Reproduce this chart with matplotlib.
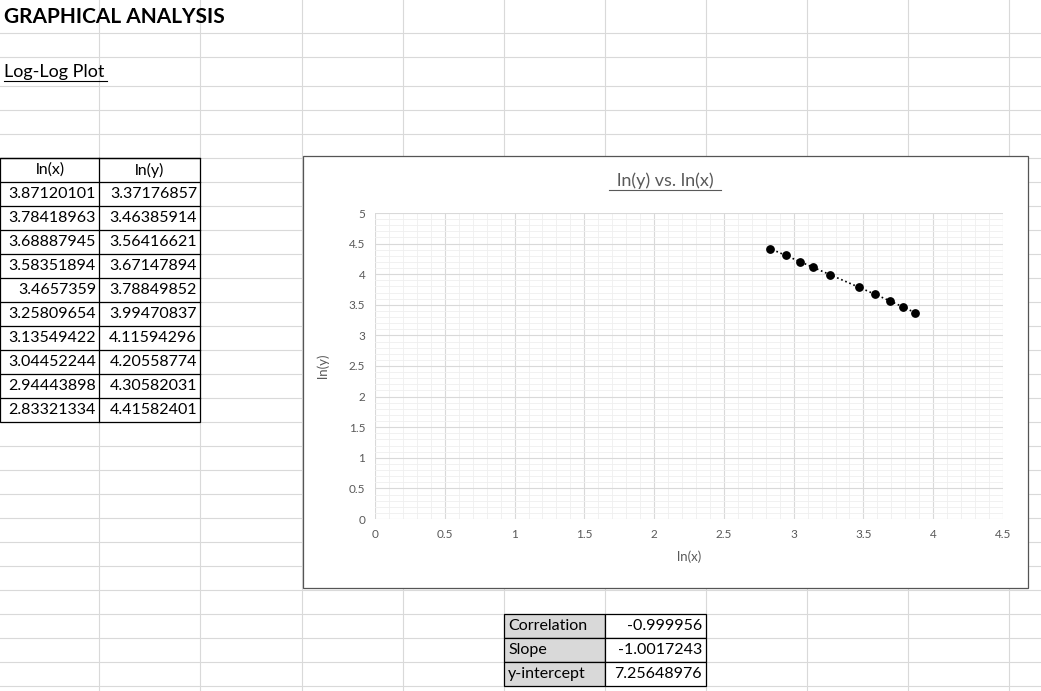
import matplotlib.pyplot as plt
from matplotlib.patches import Rectangle
from matplotlib.ticker import MultipleLocator, FuncFormatter

plt.rcParams['font.family'] = ['Lato', 'DejaVu Sans']

ln_x = [3.87120101, 3.78418963, 3.68887945, 3.58351894, 3.4657359,
        3.25809654, 3.13549422, 3.04452244, 2.94443898, 2.83321334]
ln_y = [3.37176857, 3.46385914, 3.56416621, 3.67147894, 3.78849852,
        3.99470837, 4.11594296, 4.20558774, 4.30582031, 4.41582401]
stat_labels = ['Correlation', 'Slope', 'y-intercept']
stat_values = ['-0.999956', '-1.0017243', '7.25648976']

W, H = 1041, 691
fig = plt.figure(figsize=(W / 100, H / 100), dpi=100)
bg = fig.add_axes([0, 0, 1, 1])
bg.set_xlim(0, W)
bg.set_ylim(H, 0)
bg.axis('off')

# spreadsheet grid
cols = [99, 200, 302, 403, 504, 605, 706, 807, 908, 1009]
rows = [33, 57, 86, 110, 134] + list(range(158, 691, 24))
for c in cols:
    bg.plot([c, c], [0, H], color='#d9d9d9', lw=0.8, zorder=1)
for r in rows:
    bg.plot([0, W], [r, r], color='#d9d9d9', lw=0.8, zorder=1)

bg.text(4, 17, 'GRAPHICAL ANALYSIS', fontsize=15, fontweight='bold', va='center', zorder=3)
bg.text(4, 72, 'Log-Log Plot', fontsize=13, va='center', zorder=3)
bg.plot([4, 107], [81, 81], color='black', lw=0.8, zorder=3)

# data table
bg.add_patch(Rectangle((0, 158), 200, 264, fill=False, ec='black', lw=0.9, zorder=3))
bg.plot([99, 99], [158, 422], color='black', lw=0.9, zorder=3)
for i in range(11):
    bg.plot([0, 200], [158 + 24 * i, 158 + 24 * i], color='black', lw=0.9, zorder=3)
bg.text(50, 170, 'ln(x)', fontsize=11.5, ha='center', va='center', zorder=3)
bg.text(150, 170, 'ln(y)', fontsize=11.5, ha='center', va='center', zorder=3)
for i, (a, b) in enumerate(zip(ln_x, ln_y)):
    yy = 194 + 24 * i
    bg.text(96, yy, f'{a:.9g}', fontsize=11.5, ha='right', va='center', zorder=3)
    bg.text(197, yy, f'{b:.9g}', fontsize=11.5, ha='right', va='center', zorder=3)

# stats table
for i, (lab, val) in enumerate(zip(stat_labels, stat_values)):
    y0 = 614 + 24 * i
    bg.add_patch(Rectangle((504, y0), 101, 24, fc='#d9d9d9', ec='black', lw=0.9, zorder=3))
    bg.add_patch(Rectangle((605, y0), 101, 24, fc='white', ec='black', lw=0.9, zorder=3))
    bg.text(508, y0 + 12, lab, fontsize=11.5, va='center', zorder=4)
    bg.text(702, y0 + 12, val, fontsize=11.5, ha='right', va='center', zorder=4)

# chart frame
bg.add_patch(Rectangle((303, 156), 725, 432, fc='white', ec='#555555', lw=0.9, zorder=5))
bg.text(665, 181, 'ln(y) vs. ln(x)', fontsize=13, color='#595959', ha='center', va='center', zorder=6)
bg.plot([609, 721], [190, 190], color='#595959', lw=0.8, zorder=6)

ax = fig.add_axes([375 / W, (H - 519) / H, (1003 - 375) / W, (519 - 213) / H])
ax.set_xlim(0, 4.5)
ax.set_ylim(0, 5)
ax.xaxis.set_major_locator(MultipleLocator(0.5))
ax.yaxis.set_major_locator(MultipleLocator(0.5))
ax.xaxis.set_minor_locator(MultipleLocator(0.1))
ax.yaxis.set_minor_locator(MultipleLocator(0.1))
fmt = FuncFormatter(lambda v, p: f'{v:g}')
ax.xaxis.set_major_formatter(fmt)
ax.yaxis.set_major_formatter(fmt)
ax.grid(which='major', color='#d9d9d9', lw=0.8)
ax.grid(which='minor', color='#efefef', lw=0.6)
ax.set_axisbelow(True)
for s in ax.spines.values():
    s.set_visible(False)
ax.tick_params(which='both', length=0, labelsize=8.5, labelcolor='#595959', pad=7)
ax.set_xlabel('ln(x)', fontsize=9.5, color='#595959', labelpad=8)
ax.set_ylabel('ln(y)', fontsize=9.5, color='#595959', labelpad=14)
ax.plot(ln_x, ln_y, ls=':', color='black', lw=1.2)
ax.scatter(ln_x, ln_y, s=28, color='black', zorder=3)

fig.savefig('out.png', dpi=100)
